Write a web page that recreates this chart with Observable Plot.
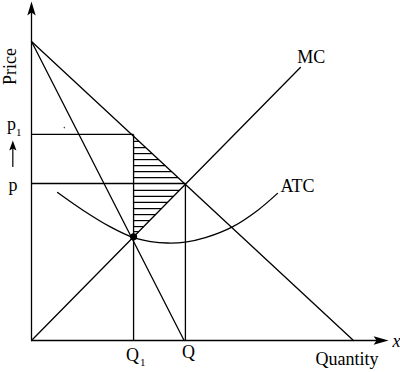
<!DOCTYPE html>
<html>
<head>
<meta charset="utf-8">
<script src="https://cdn.jsdelivr.net/npm/d3@7"></script>
<script src="https://cdn.jsdelivr.net/npm/@observablehq/plot@0.6"></script>
<style>
  html, body { margin: 0; padding: 0; background: #fff; }
  #chart { width: 400px; height: 372px; }
</style>
</head>
<body>
<div id="chart"></div>
<script>
// ---- chart values (arbitrary units: quantity & price, demand intercepts = 100) ----
const demandQ = [0, 100];
const demandP = [100, 0];
const mrQ = [0, 47.4];
const mrP = [100, 0];
const mcQ = [0, 83.5];
const mcP = [0, 91.3];
const atcQ = [8.1, 16.1, 24.5, 31.7, 37.0, 42.2, 47.8, 54.0, 62.4, 70.2, 76.4];
const atcP = [49.5, 43.5, 38.0, 34.4, 33.1, 32.6, 32.9, 34.4, 38.0, 43.5, 49.2];
const quantities = { Q1: 31.7, Q: 47.8 };
const prices = { p: 52.5, p1: 68.9 };
const hatchPrices = [66.6, 64.5, 62.5, 60.5, 58.5, 56.5, 54.5, 50.2, 48.2, 46.2, 44.1, 42.1, 40.1, 38.1, 36.4];
const axisTip = { q: 110.9, p: 113.4 };
const arrowPrices = [58.0, 66.9];
const arrowQ = -5.8;
const labels = ["Price", "Quantity", "MC", "ATC", "p", "1", "Q", "x"];

// ---- derived tables ----
const toRows = (qs, ps) => qs.map((q, i) => ({ q, p: ps[i] }));
const demand = toRows(demandQ, demandP);
const mr = toRows(mrQ, mrP);
const mc = toRows(mcQ, mcP);
const atc = toRows(atcQ, atcP);
const demandQAt = p => demandQ[0] + (demandQ[1] - demandQ[0]) * (p - demandP[0]) / (demandP[1] - demandP[0]);
const mcQAt = p => mcQ[1] * p / mcP[1];
const mcPAt = q => mcP[1] * q / mcQ[1];
const { Q1, Q } = quantities;
const { p, p1 } = prices;
const hatch = hatchPrices.map(h => ({ p: h, q1: Q1, q2: h > p ? demandQAt(h) : mcQAt(h) }));
const guides = [
  { q1: 0, q2: Q1, p1: p1, p2: p1 },
  { q1: 0, q2: Q, p1: p, p2: p },
  { q1: Q1, q2: Q1, p1: 0, p2: p1 },
  { q1: Q, q2: Q, p1: 0, p2: p }
];

// arrowhead symbols
const headUp = { draw(c) { c.moveTo(0, 0); c.lineTo(4.2, 14); c.lineTo(0, 11); c.lineTo(-4.2, 14); c.closePath(); } };
const headRight = { draw(c) { c.moveTo(0, 0); c.lineTo(-15, 4.2); c.lineTo(-12, 0); c.lineTo(-15, -4.2); c.closePath(); } };
const headSmall = { draw(c) { c.moveTo(0, 0); c.lineTo(3.6, 10); c.lineTo(0, 8); c.lineTo(-3.6, 10); c.closePath(); } };

const SW = 1.3;
const font = { fontFamily: "'Liberation Serif', 'DejaVu Serif', serif", fontSize: 18, fill: "#000" };

const chart = Plot.plot({
  width: 400,
  height: 372,
  marginLeft: 31,
  marginRight: 0,
  marginTop: 0,
  marginBottom: 32,
  x: { domain: [0, 114.6], axis: null },
  y: { domain: [0, 113.7], axis: null },
  style: { background: "#fff", overflow: "visible" },
  marks: [
    // axes
    Plot.ruleX([0], { y1: 0, y2: axisTip.p - 3, stroke: "#000", strokeWidth: SW }),
    Plot.ruleY([0], { x1: 0, x2: axisTip.q - 3, stroke: "#000", strokeWidth: SW }),
    Plot.dot([{ q: 0, p: axisTip.p }], { x: "q", y: "p", symbol: headUp, fill: "#000", r: 5 }),
    Plot.dot([{ q: axisTip.q, p: 0 }], { x: "q", y: "p", symbol: headRight, fill: "#000", r: 5 }),
    // hatching
    Plot.link(hatch, { x1: "q1", x2: "q2", y1: "p", y2: "p", stroke: "#000", strokeWidth: 1.2 }),
    // guide lines
    Plot.link(guides, { x1: "q1", x2: "q2", y1: "p1", y2: "p2", stroke: "#000", strokeWidth: SW }),
    // curves
    Plot.line(demand, { x: "q", y: "p", stroke: "#000", strokeWidth: SW }),
    Plot.line(mr, { x: "q", y: "p", stroke: "#000", strokeWidth: SW }),
    Plot.line(mc, { x: "q", y: "p", stroke: "#000", strokeWidth: SW }),
    Plot.line(atc, { x: "q", y: "p", curve: "catmull-rom", stroke: "#000", strokeWidth: SW }),
    // equilibrium dot
    Plot.dot([{ q: Q1, p: mcPAt(Q1) }], { x: "q", y: "p", r: 3.6, fill: "#000" }),
    // stray speck in original
    Plot.dot([{ q: 10.2, p: 71.2 }], { x: "q", y: "p", r: 0.8, fill: "#444" }),
    // p -> p1 arrow
    Plot.link([{ q: arrowQ, a: arrowPrices[0], b: arrowPrices[1] - 2 }], { x1: "q", x2: "q", y1: "a", y2: "b", stroke: "#000", strokeWidth: 1.2 }),
    Plot.dot([{ q: arrowQ, p: arrowPrices[1] }], { x: "q", y: "p", symbol: headSmall, fill: "#000", r: 4 }),
    // labels
    Plot.text([labels[2]], { x: mcQ[1], y: mcP[1], dx: -3, dy: -4, textAnchor: "start", lineAnchor: "bottom", ...font }),
    Plot.text([labels[3]], { x: atcQ[atcQ.length - 1], y: atcP[atcP.length - 1], dx: 3, dy: -1, textAnchor: "start", lineAnchor: "bottom", ...font }),
    Plot.text([labels[1]], { x: demandQ[1], y: 0, dx: -38, dy: 24, textAnchor: "start", lineAnchor: "bottom", ...font }),
    Plot.text([labels[7]], { x: axisTip.q, y: 0, dx: 4, dy: 6, textAnchor: "start", lineAnchor: "bottom", fontStyle: "italic", ...font }),
    Plot.text([labels[0]], { x: 0, y: 91.6, dx: -16, rotate: -90, textAnchor: "middle", lineAnchor: "bottom", ...font }),
    Plot.text([labels[6]], { x: Q1, y: 0, dx: -1, dy: 20, textAnchor: "middle", lineAnchor: "bottom", ...font }),
    Plot.text([labels[5]], { x: Q1, y: 0, dx: 6.5, dy: 25, textAnchor: "start", lineAnchor: "bottom", ...font, fontSize: 11 }),
    Plot.text([labels[6]], { x: Q, y: 0, dx: 3, dy: 17, textAnchor: "middle", lineAnchor: "bottom", ...font }),
    Plot.text([labels[4]], { x: 0, y: p1, dx: -20, dy: -4, textAnchor: "middle", lineAnchor: "bottom", ...font }),
    Plot.text([labels[5]], { x: 0, y: p1, dx: -15.5, dy: 2, textAnchor: "start", lineAnchor: "bottom", ...font, fontSize: 11 }),
    Plot.text([labels[4]], { x: 0, y: p, dx: -18.5, dy: 7, textAnchor: "middle", lineAnchor: "bottom", ...font })
  ]
});
document.getElementById("chart").appendChild(chart);
</script>
</body>
</html>
